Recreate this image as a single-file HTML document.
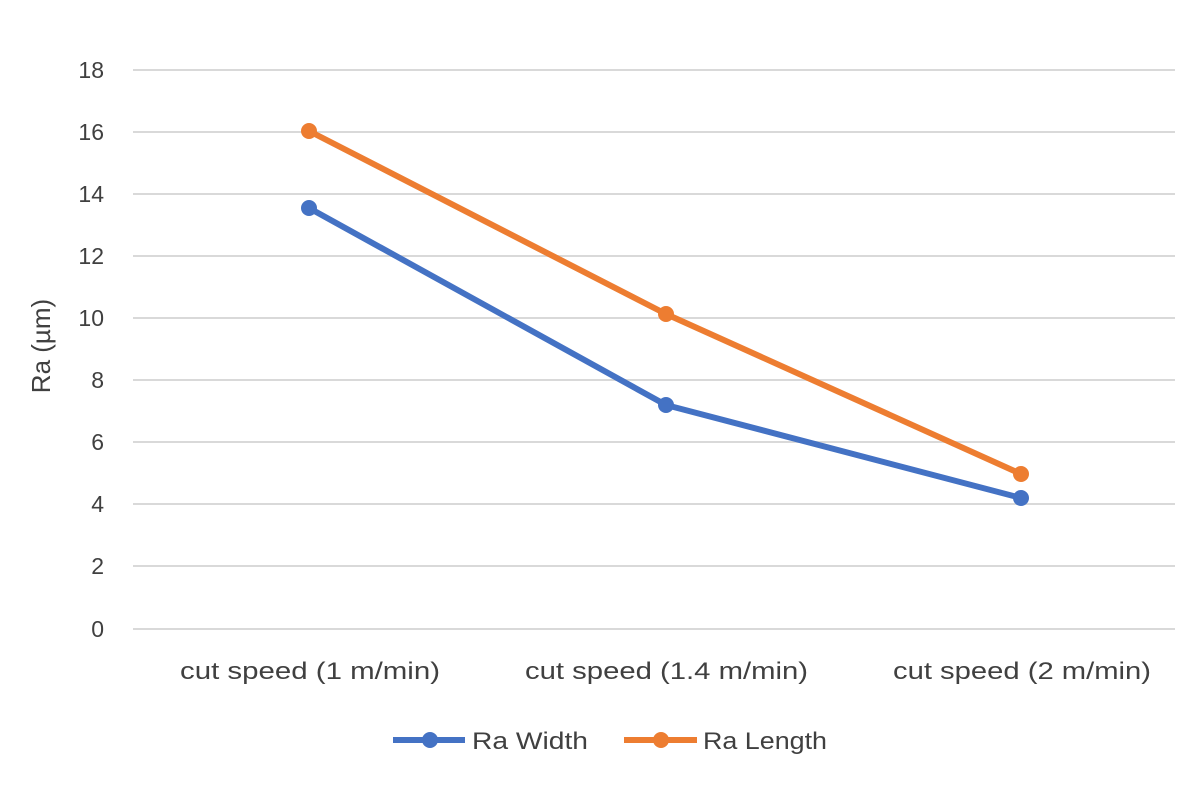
<!DOCTYPE html>
<html><head><meta charset="utf-8"><style>
html,body{margin:0;padding:0;background:#fff;}
svg{display:block;}
text{font-family:"Liberation Sans",sans-serif;fill:#404040;}
</style></head><body>
<svg width="1200" height="800" viewBox="0 0 1200 800">
<rect width="1200" height="800" fill="#fff"/>
<g stroke="#d9d9d9" stroke-width="2">
<line x1="133" x2="1175" y1="70" y2="70"/>
<line x1="133" x2="1175" y1="132" y2="132"/>
<line x1="133" x2="1175" y1="194" y2="194"/>
<line x1="133" x2="1175" y1="256" y2="256"/>
<line x1="133" x2="1175" y1="318" y2="318"/>
<line x1="133" x2="1175" y1="380" y2="380"/>
<line x1="133" x2="1175" y1="442" y2="442"/>
<line x1="133" x2="1175" y1="504" y2="504"/>
<line x1="133" x2="1175" y1="566" y2="566"/>
<line x1="133" x2="1175" y1="629" y2="629"/>
</g>
<g font-size="23" text-anchor="end">
<text x="104" y="78">18</text>
<text x="104" y="140">16</text>
<text x="104" y="202">14</text>
<text x="104" y="264">12</text>
<text x="104" y="326">10</text>
<text x="104" y="388">8</text>
<text x="104" y="450">6</text>
<text x="104" y="512">4</text>
<text x="104" y="574">2</text>
<text x="104" y="637">0</text>
</g>
<text transform="translate(50,346) rotate(-90)" font-size="26" text-anchor="middle">Ra (µm)</text>
<g font-size="24">
<text x="180" y="679" textLength="260" lengthAdjust="spacingAndGlyphs">cut speed (1 m/min)</text>
<text x="525" y="679" textLength="283" lengthAdjust="spacingAndGlyphs">cut speed (1.4 m/min)</text>
<text x="893" y="679" textLength="258" lengthAdjust="spacingAndGlyphs">cut speed (2 m/min)</text>
</g>
<polyline points="309,208 666,405 1021,498" fill="none" stroke="#4472c4" stroke-width="6" stroke-linejoin="round"/>
<polyline points="309,131 666,314 1021,474" fill="none" stroke="#ed7d31" stroke-width="6" stroke-linejoin="round"/>
<g fill="#4472c4"><circle cx="309" cy="208" r="8"/><circle cx="666" cy="405" r="8"/><circle cx="1021" cy="498" r="8"/></g>
<g fill="#ed7d31"><circle cx="309" cy="131" r="8"/><circle cx="666" cy="314" r="8"/><circle cx="1021" cy="474" r="8"/></g>
<line x1="393" x2="465" y1="740" y2="740" stroke="#4472c4" stroke-width="6"/>
<circle cx="430" cy="740" r="8" fill="#4472c4"/>
<text x="472" y="749" font-size="24" textLength="116" lengthAdjust="spacingAndGlyphs">Ra Width</text>
<line x1="624" x2="697" y1="740" y2="740" stroke="#ed7d31" stroke-width="6"/>
<circle cx="661" cy="740" r="8" fill="#ed7d31"/>
<text x="703" y="749" font-size="24" textLength="124" lengthAdjust="spacingAndGlyphs">Ra Length</text>
</svg>
</body></html>
